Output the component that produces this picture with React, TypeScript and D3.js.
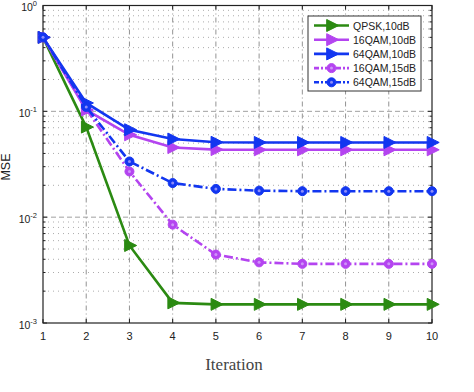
import React from "react";
import * as d3 from "d3";

const iterations = [1, 2, 3, 4, 5, 6, 7, 8, 9, 10];
const qpsk10 = [0.5, 0.071, 0.0054, 0.00155, 0.0015, 0.0015, 0.0015, 0.0015, 0.0015, 0.0015];
const qam16_10 = [0.5, 0.103, 0.06, 0.0455, 0.0435, 0.0433, 0.0433, 0.0433, 0.0433, 0.0433];
const qam64_10 = [0.5, 0.12, 0.067, 0.0547, 0.051, 0.0508, 0.0508, 0.0508, 0.0508, 0.0508];
const qam16_15 = [0.5, 0.105, 0.027, 0.0085, 0.00443, 0.00374, 0.00362, 0.00362, 0.00362, 0.00362];
const qam64_15 = [0.5, 0.11, 0.0336, 0.021, 0.0185, 0.0178, 0.0176, 0.0176, 0.0176, 0.0176];
const seriesNames = ["QPSK,10dB", "16QAM,10dB", "64QAM,10dB", "16QAM,15dB", "64QAM,15dB"];
const yTickExps = [0, -1, -2, -3];

const GREEN = "#2b8a12";
const MAGENTA = "#b444f0";
const BLUE = "#1236f0";

const series = [
  { name: seriesNames[0], values: qpsk10, color: GREEN, marker: "tri", dash: "" },
  { name: seriesNames[1], values: qam16_10, color: MAGENTA, marker: "tri", dash: "" },
  { name: seriesNames[2], values: qam64_10, color: BLUE, marker: "tri", dash: "" },
  { name: seriesNames[3], values: qam16_15, color: MAGENTA, marker: "circ", dash: "9,3,2,3" },
  { name: seriesNames[4], values: qam64_15, color: BLUE, marker: "circ", dash: "9,3,2,3" },
];

const W = 474, H = 392;
const L = 43, R = 432, T = 5.5, B = 323;

export default function App() {
  const x = d3.scaleLinear().domain([1, 10]).range([L, R]);
  const y = d3.scaleLog().domain([1e-3, 1]).range([B, T]);
  const line = d3.line<number>().x((_, i) => x(iterations[i])).y((d) => y(d));

  const minorVals: number[] = [];
  for (let e = -3; e < 0; e++) for (let k = 2; k <= 9; k++) minorVals.push(k * Math.pow(10, e));

  const tri = (cx: number, cy: number, s: number) =>
    `M${cx - s * 0.6},${cy - s * 0.75}L${cx + s * 0.9},${cy}L${cx - s * 0.6},${cy + s * 0.75}Z`;

  const marker = (s: typeof series[0], cx: number, cy: number, key: string) =>
    s.marker === "tri" ? (
      <path key={key} d={tri(cx, cy, 8)} fill={s.color} stroke={s.color} strokeWidth={1} />
    ) : (
      <g key={key}>
        <circle cx={cx} cy={cy} r={4.5} fill={s.color} stroke={s.color} strokeWidth={1} />
        <circle cx={cx} cy={cy} r={1.5} fill="#e0c8ff" opacity={0.6} />
      </g>
    );

  const legX = 308, legY = 16, legW = 113, legH = 75;

  return (
    <svg width={W} height={H} style={{ position: "absolute", left: 0, top: 0, background: "#fff" }}>
      {/* grid */}
      <g>
        {minorVals.map((v, i) => (
          <line key={"mg" + i} x1={L} x2={R} y1={y(v)} y2={y(v)} stroke="#888" strokeWidth={0.7} strokeDasharray="1,4" />
        ))}
        {yTickExps.slice(1, 3).map((e) => (
          <line key={"Mg" + e} x1={L} x2={R} y1={y(Math.pow(10, e))} y2={y(Math.pow(10, e))} stroke="#888" strokeWidth={0.8} strokeDasharray="5,3" />
        ))}
        {iterations.slice(1, -1).map((it) => (
          <line key={"vg" + it} x1={x(it)} x2={x(it)} y1={T} y2={B} stroke="#777" strokeWidth={0.8} strokeDasharray="5,3,1,3" />
        ))}
      </g>
      {/* frame */}
      <rect x={L} y={T} width={R - L} height={B - T} fill="none" stroke="#222" strokeWidth={1.2} />
      {/* ticks */}
      <g stroke="#222" strokeWidth={1}>
        {iterations.map((it) => (
          <g key={"xt" + it}>
            <line x1={x(it)} x2={x(it)} y1={B} y2={B - 4} />
            <line x1={x(it)} x2={x(it)} y1={T} y2={T + 4} />
          </g>
        ))}
        {minorVals.map((v, i) => (
          <g key={"ymt" + i}>
            <line x1={L} x2={L + 2.5} y1={y(v)} y2={y(v)} />
            <line x1={R} x2={R - 2.5} y1={y(v)} y2={y(v)} />
          </g>
        ))}
        {yTickExps.map((e) => (
          <g key={"yt" + e}>
            <line x1={L} x2={L + 4} y1={y(Math.pow(10, e))} y2={y(Math.pow(10, e))} />
            <line x1={R} x2={R - 4} y1={y(Math.pow(10, e))} y2={y(Math.pow(10, e))} />
          </g>
        ))}
      </g>
      {/* tick labels */}
      <g fontFamily="Liberation Sans, Arial, sans-serif" fill="#222">
        {iterations.map((it) => (
          <text key={"xl" + it} x={x(it)} y={B + 17} fontSize={11} textAnchor="middle">{it}</text>
        ))}
        {yTickExps.map((e) => (
          <text key={"yl" + e} x={L - 6} y={y(Math.pow(10, e)) + 5.5} fontSize={10.5} textAnchor="end">
            10<tspan dy={-5} fontSize={7.5}>{e}</tspan>
          </text>
        ))}
        <text transform={`translate(10,${167}) rotate(-90)`} fontSize={12.5} textAnchor="middle">MSE</text>
      </g>
      <text x={234} y={370} fontSize={17} textAnchor="middle" fontFamily="Liberation Serif, Times New Roman, serif" fill="#444">Iteration</text>
      {/* series */}
      {series.map((s, si) => (
        <g key={"s" + si}>
          <path d={line(s.values) || ""} fill="none" stroke={s.color} strokeWidth={2.6} strokeDasharray={s.dash} />
          {s.values.map((v, i) => marker(s, x(iterations[i]), y(v), "m" + si + "-" + i))}
        </g>
      ))}
      {/* legend */}
      <g>
        <rect x={legX} y={legY} width={legW} height={legH} fill="#fff" stroke="#333" strokeWidth={1} />
        {series.map((s, i) => {
          const cy = legY + 9.5 + i * 14.2;
          return (
            <g key={"lg" + i}>
              <line x1={legX + 6} x2={legX + 41} y1={cy} y2={cy} stroke={s.color} strokeWidth={2.6} strokeDasharray={s.dash ? "5,2,2,2" : ""} />
              {marker(s, legX + 23.5, cy, "lm" + i)}
              <text x={legX + 45} y={cy + 4} fontSize={10.5} fontFamily="Liberation Sans, Arial, sans-serif" fill="#222">{s.name}</text>
            </g>
          );
        })}
      </g>
    </svg>
  );
}
